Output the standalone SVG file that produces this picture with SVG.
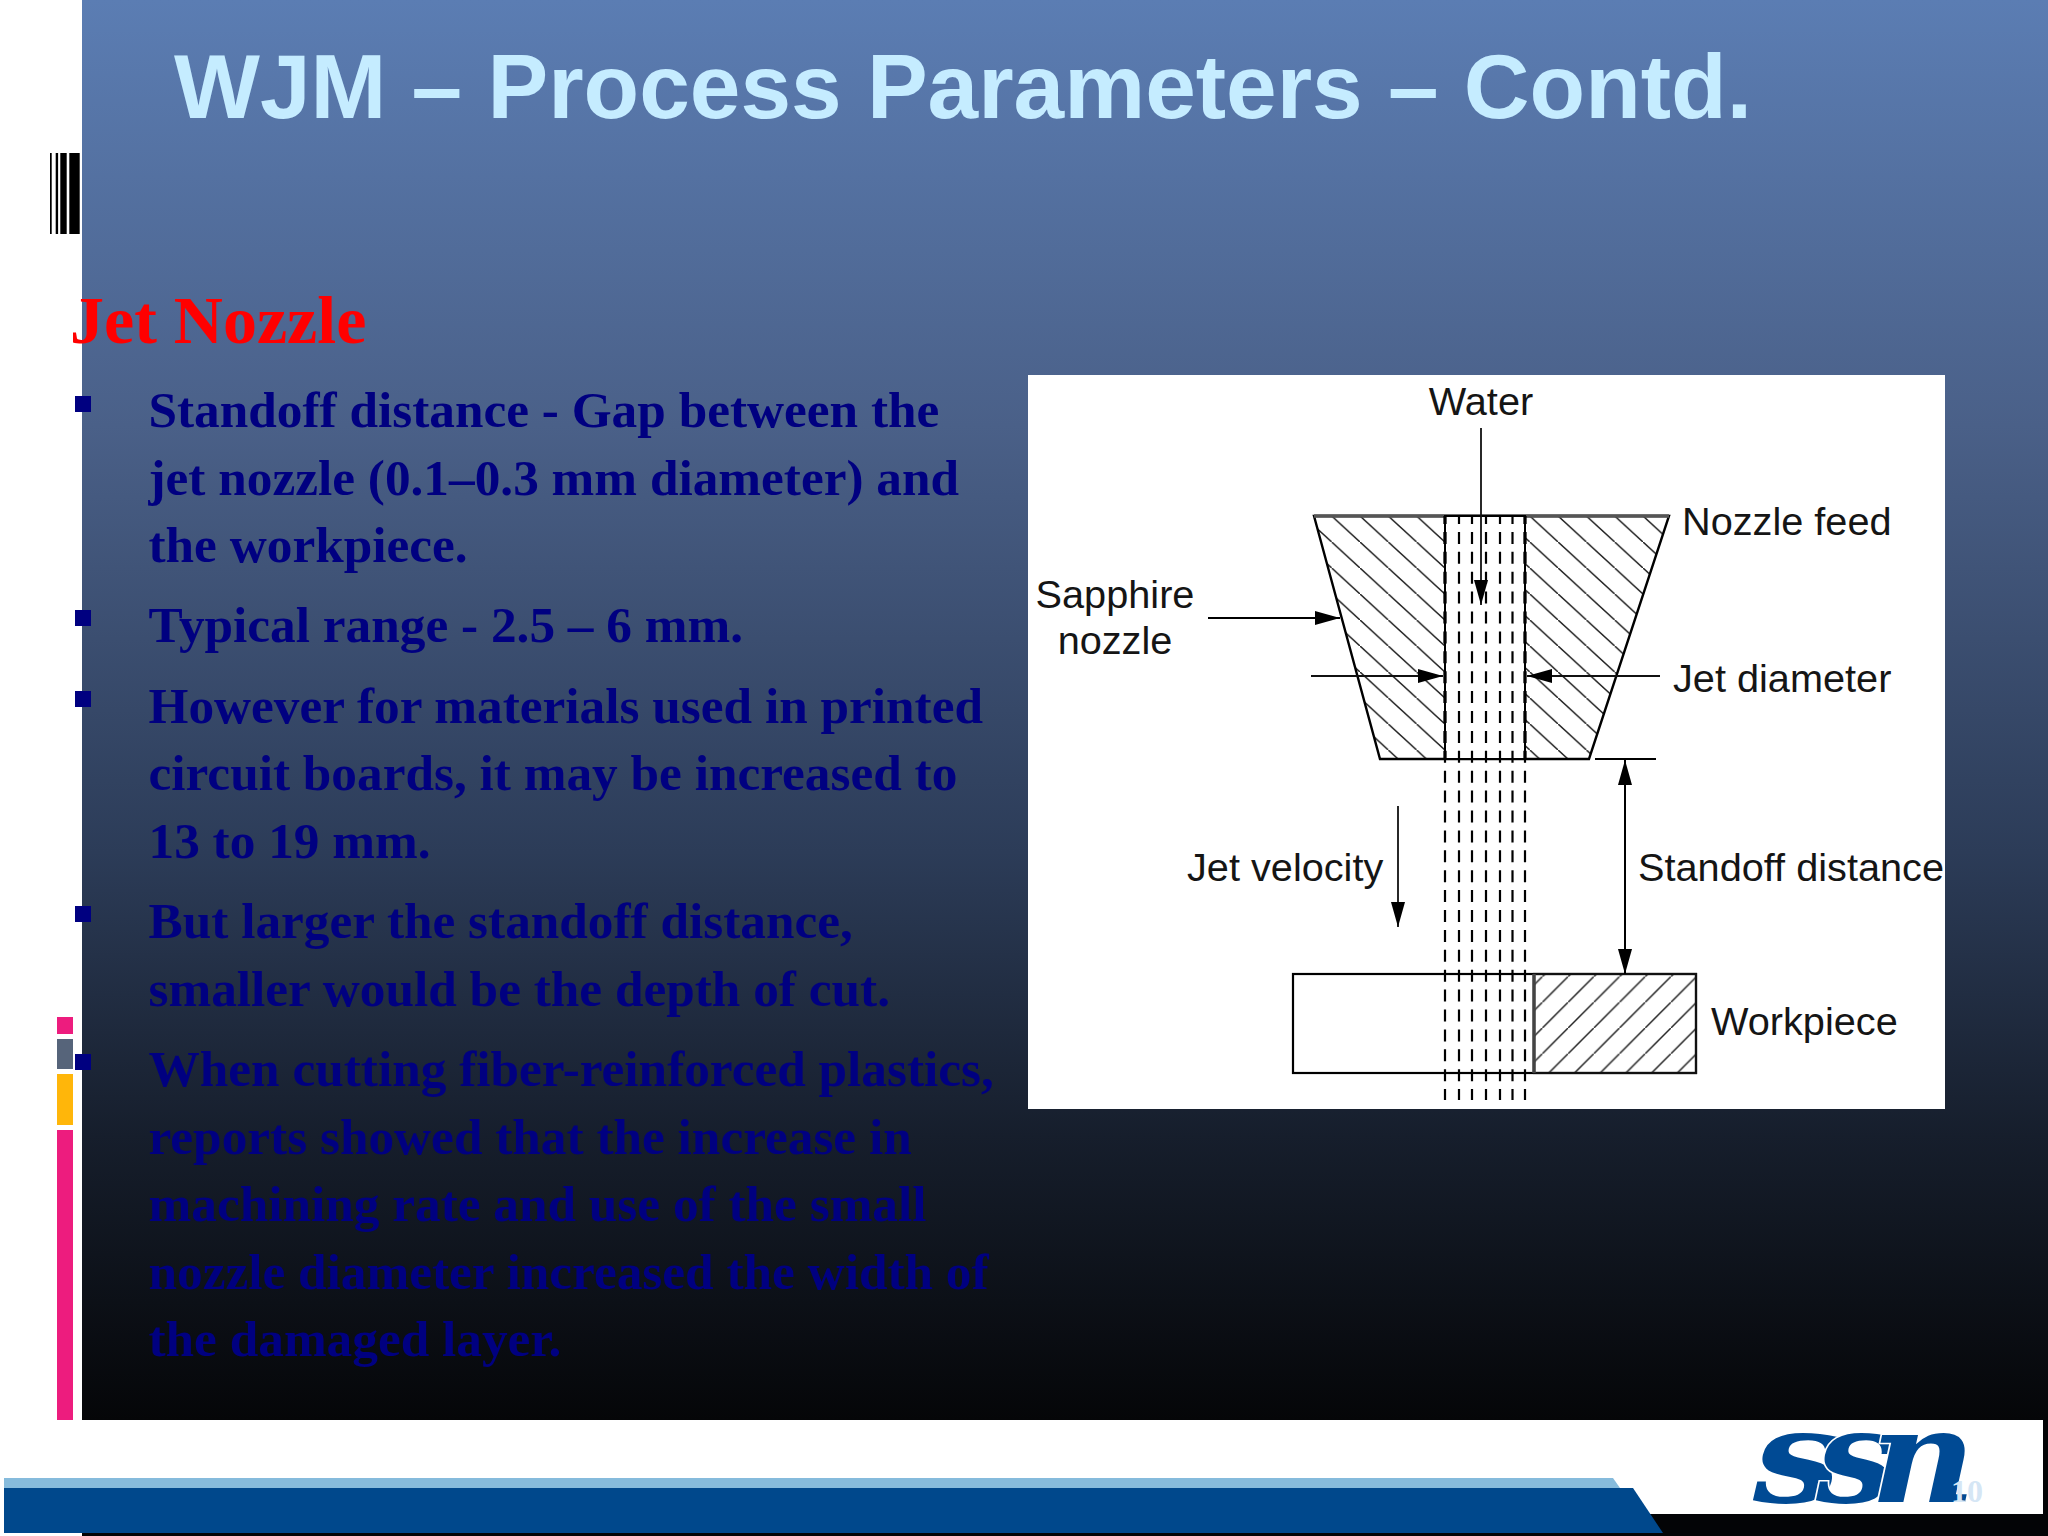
<svg xmlns="http://www.w3.org/2000/svg" width="2048" height="1536" viewBox="0 0 2048 1536">
<style>
.title{font:bold 91px "Liberation Sans",Arial,sans-serif;fill:#c5ecff}
.head{font:bold 68px "Liberation Serif","Times New Roman",serif;fill:#ff0000}
.body{font:bold 51.3px "Liberation Serif","Times New Roman",serif;fill:#000080}
.lab{font:39.7px "Liberation Sans",Arial,sans-serif;fill:#151515}
.ln{stroke:#000;stroke-width:2;fill:none}
.thin{stroke:#111;stroke-width:1.8;fill:none}
.jet{stroke:#000;stroke-width:2.2;stroke-dasharray:12 7.9;stroke-dashoffset:4;fill:none}
.jet-edge{stroke:#000;stroke-width:3.2;stroke-dasharray:12 7.9;stroke-dashoffset:4;fill:none}
.bul{fill:#000080}
.logo{font:italic bold 130px "DejaVu Serif",serif;fill:#004a94;stroke:#fff;stroke-width:3;paint-order:stroke}
</style>
<defs>
<linearGradient id="bg" x1="0" y1="0" x2="0" y2="1">
<stop offset="0" stop-color="#5b7db3"/>
<stop offset="0.3" stop-color="#4a6088"/>
<stop offset="0.6" stop-color="#2c3c58"/>
<stop offset="0.8" stop-color="#161e2c"/>
<stop offset="1" stop-color="#050608"/>
</linearGradient>
<pattern id="h1" patternUnits="userSpaceOnUse" width="28.3" height="26" patternTransform="translate(1331.7 516)">
<path d="M-2.83 -2.6L31.13 28.6" stroke="#222" stroke-width="1.5" fill="none"/>
</pattern>
<pattern id="h2" patternUnits="userSpaceOnUse" width="25.7" height="25.7" patternTransform="translate(2519 0)">
<path d="M-2 27.7L27.7 -2" stroke="#222" stroke-width="1.5" fill="none"/>
</pattern>
<marker id="ah" markerUnits="userSpaceOnUse" markerWidth="26" markerHeight="16" refX="25" refY="7" orient="auto-start-reverse">
<path d="M0 0L25 7L0 14Z" fill="#000"/>
</marker>
</defs>
<rect id="page" width="2048" height="1536" fill="#fff"/>
<rect x="82" y="0" width="1966" height="1420" fill="url(#bg)"/>
<rect x="82" y="1514" width="1966" height="22" fill="#030406"/>
<rect x="2043" y="1420" width="5" height="94" fill="#030406"/>
<g id="barcode" fill="#000">
<rect x="50" y="153" width="1.7" height="81"/>
<rect x="55.7" y="153" width="2.4" height="81"/>
<rect x="60.3" y="153" width="6.4" height="81"/>
<rect x="69.3" y="153" width="10.4" height="81"/>
</g>
<g id="side-bars">
<rect x="57" y="1017" width="16" height="17" fill="#ed1c7e"/>
<rect x="57" y="1039" width="16" height="30" fill="#56647a"/>
<rect x="57" y="1074" width="16" height="51" fill="#ffb60a"/>
<rect x="57" y="1130" width="16" height="290" fill="#ed1c7e"/>
</g>
<g id="footer-band">
<path d="M4 1478H1613L1620 1488H4Z" fill="#86bbdc"/>
<path d="M4 1488H1633L1663 1533H4Z" fill="#00488c"/>
</g>
<text id="title" class="title" x="174" y="118">WJM – Process Parameters – Contd.</text>
<text id="heading" class="head" x="70" y="343">Jet Nozzle</text>
<g id="bullets">
<rect class="bul" x="75" y="396" width="16" height="16"/>
<rect class="bul" x="75" y="610" width="16" height="16"/>
<rect class="bul" x="75" y="691" width="16" height="16"/>
<rect class="bul" x="75" y="906" width="16" height="16"/>
<rect class="bul" x="75" y="1054" width="16" height="16"/>
</g>
<g id="body-text">
<text class="body" x="148.5" y="427">Standoff distance - Gap between the</text>
<text class="body" x="148.5" y="495">jet nozzle (0.1–0.3 mm diameter) and</text>
<text class="body" x="148.5" y="562">the workpiece.</text>
<text class="body" x="148.5" y="642">Typical range - 2.5 – 6 mm.</text>
<text class="body" x="148.5" y="723">However for materials used in printed</text>
<text class="body" x="148.5" y="790">circuit boards, it may be increased to</text>
<text class="body" x="148.5" y="858">13 to 19 mm.</text>
<text class="body" x="148.5" y="938">But larger the standoff distance,</text>
<text class="body" x="148.5" y="1006">smaller would be the depth of cut.</text>
<text class="body" x="148.5" y="1086">When cutting fiber-reinforced plastics,</text>
<text class="body" x="148.5" y="1154">reports showed that the increase in</text>
<text class="body" x="148.5" y="1221">machining rate and use of the small</text>
<text class="body" x="148.5" y="1289">nozzle diameter increased the width of</text>
<text class="body" x="148.5" y="1356">the damaged layer.</text>
</g>
<rect id="figure-panel" x="1028" y="375" width="917" height="734" fill="#fff"/>
<g id="nozzle">
<path d="M1314 516H1669L1589 759H1380Z" fill="url(#h1)" stroke="#000" stroke-width="2.4"/>
<path d="M1314 516H1669" stroke="#555" stroke-width="3.5"/>
<rect x="1445" y="516" width="80" height="243" fill="#fff" stroke="#000" stroke-width="2"/>
</g>
<g id="workpiece">
<rect x="1293" y="974" width="403" height="99" fill="#fff" stroke="#000" stroke-width="2.2"/>
<rect x="1534" y="974" width="162" height="99" fill="url(#h2)" stroke="#111" stroke-width="2.2"/>
<path d="M1534 974V1073" stroke="#444" stroke-width="3.5"/>
</g>
<g id="jet-lines">
<path class="jet-edge" d="M1445 516V760"/>
<path class="jet" d="M1445 516V1100"/>
<path class="jet" d="M1459 516V1100"/>
<path class="jet" d="M1472 516V1100"/>
<path class="jet" d="M1486 516V1100"/>
<path class="jet" d="M1500 516V1100"/>
<path class="jet" d="M1512.5 516V1100"/>
<path class="jet-edge" d="M1525 516V760"/>
<path class="jet" d="M1525 516V1100"/>
</g>
<g id="connectors">
<path class="thin" d="M1481 428V605" marker-end="url(#ah)"/>
<path class="ln" d="M1208 618H1340" marker-end="url(#ah)"/>
<path class="thin" d="M1311 676H1443" marker-end="url(#ah)"/>
<path class="thin" d="M1660 676H1527" marker-end="url(#ah)"/>
<path class="thin" d="M1398 806V927" marker-end="url(#ah)"/>
<path class="ln" d="M1625 760V974" marker-start="url(#ah)" marker-end="url(#ah)"/>
<path class="ln" d="M1595 759H1656"/>
</g>
<g id="labels">
<text class="lab" x="1481" y="415" text-anchor="middle">Water</text>
<text class="lab" x="1682" y="535">Nozzle feed</text>
<text class="lab" x="1115" y="608" text-anchor="middle">Sapphire</text>
<text class="lab" x="1115" y="654" text-anchor="middle">nozzle</text>
<text class="lab" x="1673" y="692">Jet diameter</text>
<text class="lab" x="1187" y="881">Jet velocity</text>
<text class="lab" x="1638" y="881">Standoff distance</text>
<text class="lab" x="1711" y="1035">Workpiece</text>
</g>
<g id="logo">
<text class="logo" x="1753" y="1502" textLength="88" lengthAdjust="spacingAndGlyphs">s</text>
<text class="logo" x="1816" y="1502" textLength="80" lengthAdjust="spacingAndGlyphs">s</text>
<text class="logo" x="1870" y="1502" textLength="106" lengthAdjust="spacingAndGlyphs">n</text>
</g>
<text id="page-number" x="1951" y="1502" font-family="'Liberation Serif',serif" font-weight="bold" font-size="32" fill="#d5e6f5">10</text>
</svg>
